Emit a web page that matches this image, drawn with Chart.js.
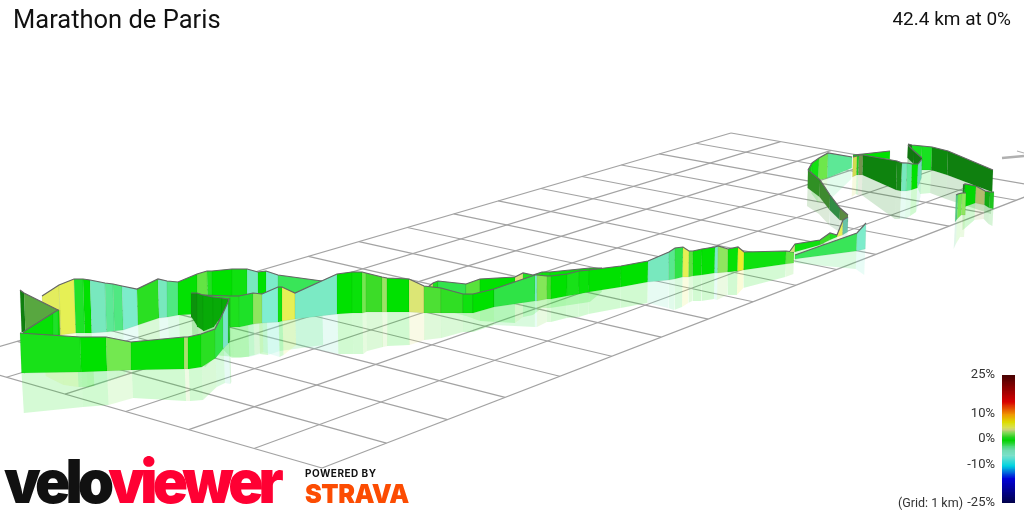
<!DOCTYPE html>
<html>
<head>
<meta charset="utf-8">
<title>Marathon de Paris</title>
<script src="https://cdn.jsdelivr.net/npm/chart.js@4"></script>
<style>
  html, body { margin: 0; padding: 0; background: #fff; }
  #page { position: relative; width: 1024px; height: 512px; overflow: hidden; font-family: Roboto, sans-serif; color: #111; }
  #route { position: absolute; left: 0; top: 0; }
  #scale { position: absolute; left: 890px; top: 365px; }
  .label { position: absolute; white-space: nowrap; }
  #title { left: 13px; top: 4px; font-size: 25.5px; }
  #distance { right: 13px; top: 7px; font-size: 19px; }
  #gridNote { left: 898px; top: 495px; font-size: 12.5px; color: #333; }
  #logo { left: 4px; top: 445px; font: 900 60px Inter, sans-serif; letter-spacing: -5px; transform-origin: 0 0; transform: scaleX(0.97); }
  #logo span { color: #ff0033; }
  #powered { left: 305px; top: 467px; font: 700 10px Inter, sans-serif; letter-spacing: 0.5px; }
  #strava { left: 305px; top: 478px; font: 900 26px Inter, sans-serif; color: #fc4c02; letter-spacing: -0.5px; transform-origin: 0 0; transform: scaleX(0.97); }
</style>
</head>
<body>
<div id="page">
  <canvas id="route" width="1024" height="512"></canvas>
  <canvas id="scale" width="134" height="147"></canvas>
  <div class="label" id="title">Marathon de Paris</div>
  <div class="label" id="distance">42.4 km at 0%</div>
  <div class="label" id="gridNote">(Grid: 1 km)</div>
  <div class="label" id="logo">velo<span>viewer</span></div>
  <div class="label" id="powered">POWERED BY</div>
  <div class="label" id="strava">STRAVA</div>
</div>
<script>
// Ground grid: 16 x 6 cells of 1 km, corners as seen in the picture
const gridCornerX = [-50, 322, 1048, 731];
const gridCornerY = [361, 468, 188, 133];
const gridAlong = 16;
const gridAcross = 6;

// Route walls, far to near. x, top of wall, foot of wall, gradient % between points
const farX = [42, 59, 74, 83, 90, 105, 113, 122, 137, 158, 167, 178, 197, 207, 212, 232, 247, 258, 266, 278, 322];
const farTop = [296, 285, 279, 279, 280, 283, 284, 286, 289, 279, 281, 282, 274, 271, 271, 269, 269, 272, 271, 275, 281];
const farBase = [336, 335, 333, 333, 333, 332, 331, 330, 325, 318, 317, 315, 314, 313, 313, 313, 313, 313, 313, 313, 313];
const farGrade = [4.8, 5, -1, 0, -4, -3, -2.5, -5, 1.2, -4, -2.5, 0.1, 2.2, 1, 0, 0.5, -4, 0, -5, -1.8];

const sailX = [20, 24, 58];
const sailTop = [290, 293, 310];
const sailBase = [332, 332, 310];
const sailGrade = [0, 2.5];

const wedgeX = [23, 53, 58, 59];
const wedgeTop = [332, 313, 310, 310];
const wedgeBase = [335, 335, 335, 335];
const wedgeGrade = [0.2, -1, 0.3];

const midX = [428, 433, 438, 466, 480, 515, 523, 533, 542, 550, 590, 602];
const midTop = [287, 283, 281, 284, 279, 277, 273, 275, 272, 272, 268, 268];
const midBase = [295, 295, 295, 300, 300, 300, 295, 295, 290, 290, 285, 280];
const midGrade = [4.3, 1, -1.6, 2, 0, 4, 1, 0.8, 0.5, 0.2, 0];

const tailNearX = [956, 958, 962, 966];
const tailNearTop = [195, 194, 193, 193];
const tailNearBase = [222, 219, 215, 215];
const tailNearGrade = [-3, 2.5, 3];

const tailX = [963, 965, 976, 985, 990, 994];
const tailTop = [185, 184, 186, 191, 192, 192];
const tailBase = [193, 207, 203, 205, 208, 209];
const tailGrade = [-1, 0, 4, 0.5, 1];

const eastX = [908, 912, 922, 932, 948, 993];
const eastTop = [144, 145, 146, 147, 151, 170];
const eastBase = [158, 158, 170, 170, 175, 192];
const eastGrade = [0, -0.8, -0.8, 0, 0];

const hookX = [908, 914, 922];
const hookTop = [145, 151, 158];
const hookBase = [158, 164, 166];
const hookGrade = [0, 0];

const tipX = [853, 863, 890];
const tipTop = [155, 154, 151];
const tipBase = [157, 157, 159];
const tipGrade = [0, 0];

const arcX = [808, 812, 819, 828, 852];
const arcTop = [170, 163, 158, 153, 157];
const arcBase = [172, 178, 180, 178, 168];
const arcGrade = [0.5, 0.6, 2.4, -3];

const ridgeX = [853, 857, 859, 863, 897, 902, 907, 912, 918, 922];
const ridgeTop = [157, 156, 155, 155, 161, 163, 163, 164, 164, 159];
const ridgeBase = [177, 175, 175, 175, 190, 191, 191, 190, 188, 178];
const ridgeGrade = [5, 1, 3.5, 0, 0.5, -4, -3, 0, -5];

const twistX = [808, 820, 830, 840, 848];
const twistTop = [170, 180, 195, 208, 215];
const twistBase = [188, 197, 210, 220, 222];
const twistGrade = [1.5, 2, -2, 3];

const lowerX = [203, 230, 239, 253, 262, 278, 282, 295, 337, 352, 362, 366, 382, 387, 409, 424, 441, 463, 473, 494, 535, 537, 547, 551, 567, 579, 589, 621, 648, 669, 675, 683, 689, 693, 702, 715, 718, 728, 738, 744, 786, 794];
const lowerTop = [295, 296, 296, 293, 294, 287, 287, 293, 274, 272, 272, 273, 277, 278, 279, 286, 288, 294, 294, 289, 275, 275, 276, 276, 274, 271, 270, 266, 261, 252, 248, 247, 251, 251, 249, 247, 246, 249, 247, 252, 251, 252];
const lowerBase = [313, 327, 327, 324, 323, 322, 321, 319, 314, 313, 313, 312, 312, 312, 312, 313, 313, 313, 313, 307, 301, 301, 299, 299, 296, 294, 292, 287, 282, 280, 279, 277, 277, 276, 275, 273, 273, 272, 271, 270, 264, 263];
const lowerGrade = [1, 1, -1, 3, -5.5, 0.5, 5, -4.5, 0, 0.3, 2.5, 1.5, 3.2, 0, 4.3, 1.8, 1.3, 0.5, 0, -1.5, -5, 2.8, 1.6, 0, 0.8, 0.3, 0, 0, -4, -2.8, -1.5, 5, 2, 0.2, 0.1, -5, 3, 0.2, 6, 0.5, 2.2];

const rampX = [790, 795, 820, 830, 837, 843, 848];
const rampTop = [251, 244, 240, 233, 235, 220, 217];
const rampBase = [252, 252, 245, 240, 237, 235, 232];
const rampGrade = [4, 0.5, 1.5, 1, 5, -5];

const spurX = [795, 857, 866];
const spurTop = [255, 233, 223];
const spurBase = [259, 251, 249];
const spurGrade = [-1.8, -5];

const curlX = [191, 197, 203, 213, 222, 228];
const curlTop = [293, 293, 295, 297, 298, 299];
const curlBase = [317, 327, 331, 327, 315, 308];
const curlGrade = [0, 0, 0, 0, 0];

const frontX = [20, 80, 106, 131, 184, 188, 201, 215, 223, 228, 229];
const frontTop = [333, 337, 337, 342, 337, 337, 334, 329, 313, 302, 298];
const frontBase = [373, 372, 371, 370, 369, 369, 367, 358, 348, 343, 340];
const frontGrade = [0.8, 0, 2.5, 0.2, 3.5, 0.1, 1.2, -1.5, -5.5, -1];

// Colour scale ticks
const scaleTicks = [25, 10, 0, -10, -25];

// Styles: how much each wall is in shade
const gradeStops = [
  [-25, 0, 0, 70], [-15, 0, 0, 230], [-10, 0, 225, 240], [-6, 130, 240, 215], [-4, 120, 232, 190],
  [-2.5, 80, 232, 130], [-1, 30, 225, 40], [0, 0, 225, 0], [1, 30, 225, 30], [1.5, 60, 220, 40],
  [2.5, 115, 232, 80], [3.5, 170, 225, 110], [4, 215, 225, 130], [5, 230, 240, 85], [7, 235, 235, 0],
  [10, 255, 160, 0], [15, 230, 0, 0], [25, 80, 0, 0]
];
const sailShade = [0.5, 0.68];
const eastShade = [0.5, 1, 1, 0.55, 0.5];
const hookShade = [0.45, 0.45];
const arcShade = [0.9, 1, 1, 1];
const ridgeShade = [0.9, 0.9, 0.6, 0.52, 0.55, 1, 1, 1, 0.9];
const twistShade = [0.6, 0.55, 0.55, 0.55];
const tailShade = [0.5, 0.95, 0.8, 0.72, 0.85];
const tailNearShade = [0.85, 1, 1];
const rampShade = [1, 1, 1, 1, 1, 0.8];
const curlShade = [0.6, 0.68, 0.72, 0.72, 0.72];
const frontShade = [1, 1, 1, 1, 1, 1, 1, 1, 0.95, 0.85];

const walls = [
  [farX, farTop, farBase, farGrade],
  [sailX, sailTop, sailBase, sailGrade, sailShade],
  [wedgeX, wedgeTop, wedgeBase, wedgeGrade],
  [midX, midTop, midBase, midGrade],
  [tailX, tailTop, tailBase, tailGrade, tailShade],
  [tailNearX, tailNearTop, tailNearBase, tailNearGrade, tailNearShade],
  [eastX, eastTop, eastBase, eastGrade, eastShade],
  [hookX, hookTop, hookBase, hookGrade, hookShade],
  [tipX, tipTop, tipBase, tipGrade],
  [arcX, arcTop, arcBase, arcGrade, arcShade],
  [ridgeX, ridgeTop, ridgeBase, ridgeGrade, ridgeShade],
  [twistX, twistTop, twistBase, twistGrade, twistShade],
  [lowerX, lowerTop, lowerBase, lowerGrade],
  [rampX, rampTop, rampBase, rampGrade, rampShade],
  [spurX, spurTop, spurBase, spurGrade],
  [curlX, curlTop, curlBase, curlGrade, curlShade],
  [frontX, frontTop, frontBase, frontGrade, frontShade]
];

// Grade to rgb, walls in shade go dark and a little grey
function gradeRgb(grade, shade = 1) {
  let i = 0;
  while (i < gradeStops.length - 2 && grade > gradeStops[i + 1][0]) i++;
  const a = gradeStops[i], b = gradeStops[i + 1];
  const t = (grade - a[0]) / (b[0] - a[0]);
  return [1, 2, 3].map(k => Math.round((a[k] + (b[k] - a[k]) * t) * shade + 30 * (1 - shade)));
}

// Walls lean away from the middle of the view
function lean(x, height) {
  return height * 0.04 * (512 - x) / 512;
}

// Grid cell position to picture position (unit square to corner quad)
function gridPoint(u, v) {
  const [x0, x1, x2, x3] = gridCornerX;
  const [y0, y1, y2, y3] = gridCornerY;
  const dx1 = x1 - x2, dx2 = x3 - x2, sx = x0 - x1 + x2 - x3;
  const dy1 = y1 - y2, dy2 = y3 - y2, sy = y0 - y1 + y2 - y3;
  const den = dx1 * dy2 - dx2 * dy1;
  const g = (sx * dy2 - dx2 * sy) / den;
  const h = (dx1 * sy - sx * dy1) / den;
  const a = x1 - x0 + g * x1, b = x3 - x0 + h * x3;
  const d = y1 - y0 + g * y1, e = y3 - y0 + h * y3;
  const s = v / gridAcross, t = u / gridAlong;
  const w = g * s + h * t + 1;
  return { x: (a * s + b * t + x0) / w, y: (d * s + e * t + y0) / w };
}

function lineSet(data, color, width) {
  return { data, showLine: true, fill: false, borderColor: color, borderWidth: width, pointRadius: 0 };
}

function polySet(data, fillColor, edgeColor, edgeWidth) {
  return {
    data: data.concat([data[0]]), showLine: true, fill: "shape", backgroundColor: fillColor,
    borderColor: edgeColor, borderWidth: edgeWidth, pointRadius: 0, tension: 0
  };
}

const datasets = [];

for (let u = 0; u <= gridAlong; u++) {
  datasets.push(lineSet([gridPoint(u, 0), gridPoint(u, gridAcross)], "#a3a3a3", 1.2));
}
for (let v = 0; v <= gridAcross; v++) {
  datasets.push(lineSet([gridPoint(0, v), gridPoint(gridAlong, v)], "#a3a3a3", 1.2));
}
// North marker poking in at the right edge
datasets.push(lineSet([{ x: 1002, y: 158 }, { x: 1024, y: 156 }], "#b0b0b0", 2.4));
datasets.push(lineSet([{ x: 1017, y: 151 }, { x: 1024, y: 153 }], "#b0b0b0", 1.2));

// Reflections on the ground first, all under the walls
walls.forEach(([xs, tops, bases, grades, shades]) => {
  grades.forEach((g, i) => {
    const [r, gr, b] = gradeRgb(g, shades ? shades[i] : 1);
    const color = `rgba(${r},${gr},${b},0.18)`;
    const h0 = bases[i] - tops[i], h1 = bases[i + 1] - tops[i + 1];
    datasets.push(polySet([
      { x: xs[i] + lean(xs[i], h0), y: bases[i] },
      { x: xs[i + 1] + lean(xs[i + 1], h1), y: bases[i + 1] },
      { x: xs[i + 1] + 2.5 * lean(xs[i + 1], h1), y: bases[i + 1] + h1 },
      { x: xs[i] + 2.5 * lean(xs[i], h0), y: bases[i] + h0 }
    ], color, "rgba(0,0,0,0)", 0));
  });
});

walls.forEach(([xs, tops, bases, grades, shades]) => {
  grades.forEach((g, i) => {
    const [r, gr, b] = gradeRgb(g, shades ? shades[i] : 1);
    const h0 = bases[i] - tops[i], h1 = bases[i + 1] - tops[i + 1];
    datasets.push(polySet([
      { x: xs[i], y: tops[i] },
      { x: xs[i + 1], y: tops[i + 1] },
      { x: xs[i + 1] + lean(xs[i + 1], h1), y: bases[i + 1] },
      { x: xs[i] + lean(xs[i], h0), y: bases[i] }
    ], `rgb(${r},${gr},${b})`, "rgba(0,60,0,0.09)", 0.7));
  });
  datasets.push(lineSet(xs.map((x, i) => ({ x, y: tops[i] })), "#666", 1.2));
});

// Chart.js paints the first dataset last, so hand them over reversed
new Chart(document.getElementById("route"), {
  type: "scatter",
  data: { datasets: datasets.reverse() },
  options: {
    responsive: false,
    animation: false,
    layout: { padding: 0 },
    plugins: { legend: { display: false }, tooltip: { enabled: false } },
    scales: {
      x: { type: "linear", min: 0, max: 1024, display: false },
      y: { type: "linear", min: 0, max: 512, reverse: true, display: false }
    }
  }
});

// Colour scale as a column of thin floating bars on a real axis
const scaleSteps = [];
for (let g = 25; g > -25; g -= 0.5) scaleSteps.push(g);

new Chart(document.getElementById("scale"), {
  type: "bar",
  data: {
    labels: ["gradient"],
    datasets: scaleSteps.map(g => {
      const [r, gr, b] = gradeRgb(g, 0.93);
      return {
        data: [[g - 0.6, g]], backgroundColor: `rgb(${r},${gr},${b})`, borderWidth: 0,
        barPercentage: 1, categoryPercentage: 1, grouped: false
      };
    })
  },
  options: {
    responsive: false,
    animation: false,
    layout: { padding: { top: 0, bottom: 0, left: 0, right: 9 } },
    plugins: { legend: { display: false }, tooltip: { enabled: false } },
    scales: {
      x: { display: false },
      y: {
        min: -25, max: 25,
        grid: { display: false, drawTicks: false },
        border: { display: false },
        afterBuildTicks: axis => { axis.ticks = scaleTicks.map(value => ({ value })); },
        afterFit: axis => { axis.width = 112; axis.paddingTop = 10; axis.paddingBottom = 9; },
        ticks: {
          padding: 7, color: "#333", font: { family: "Roboto", size: 13 },
          autoSkip: false,
          callback: v => v + "%"
        }
      }
    }
  }
});
</script>
</body>
</html>
